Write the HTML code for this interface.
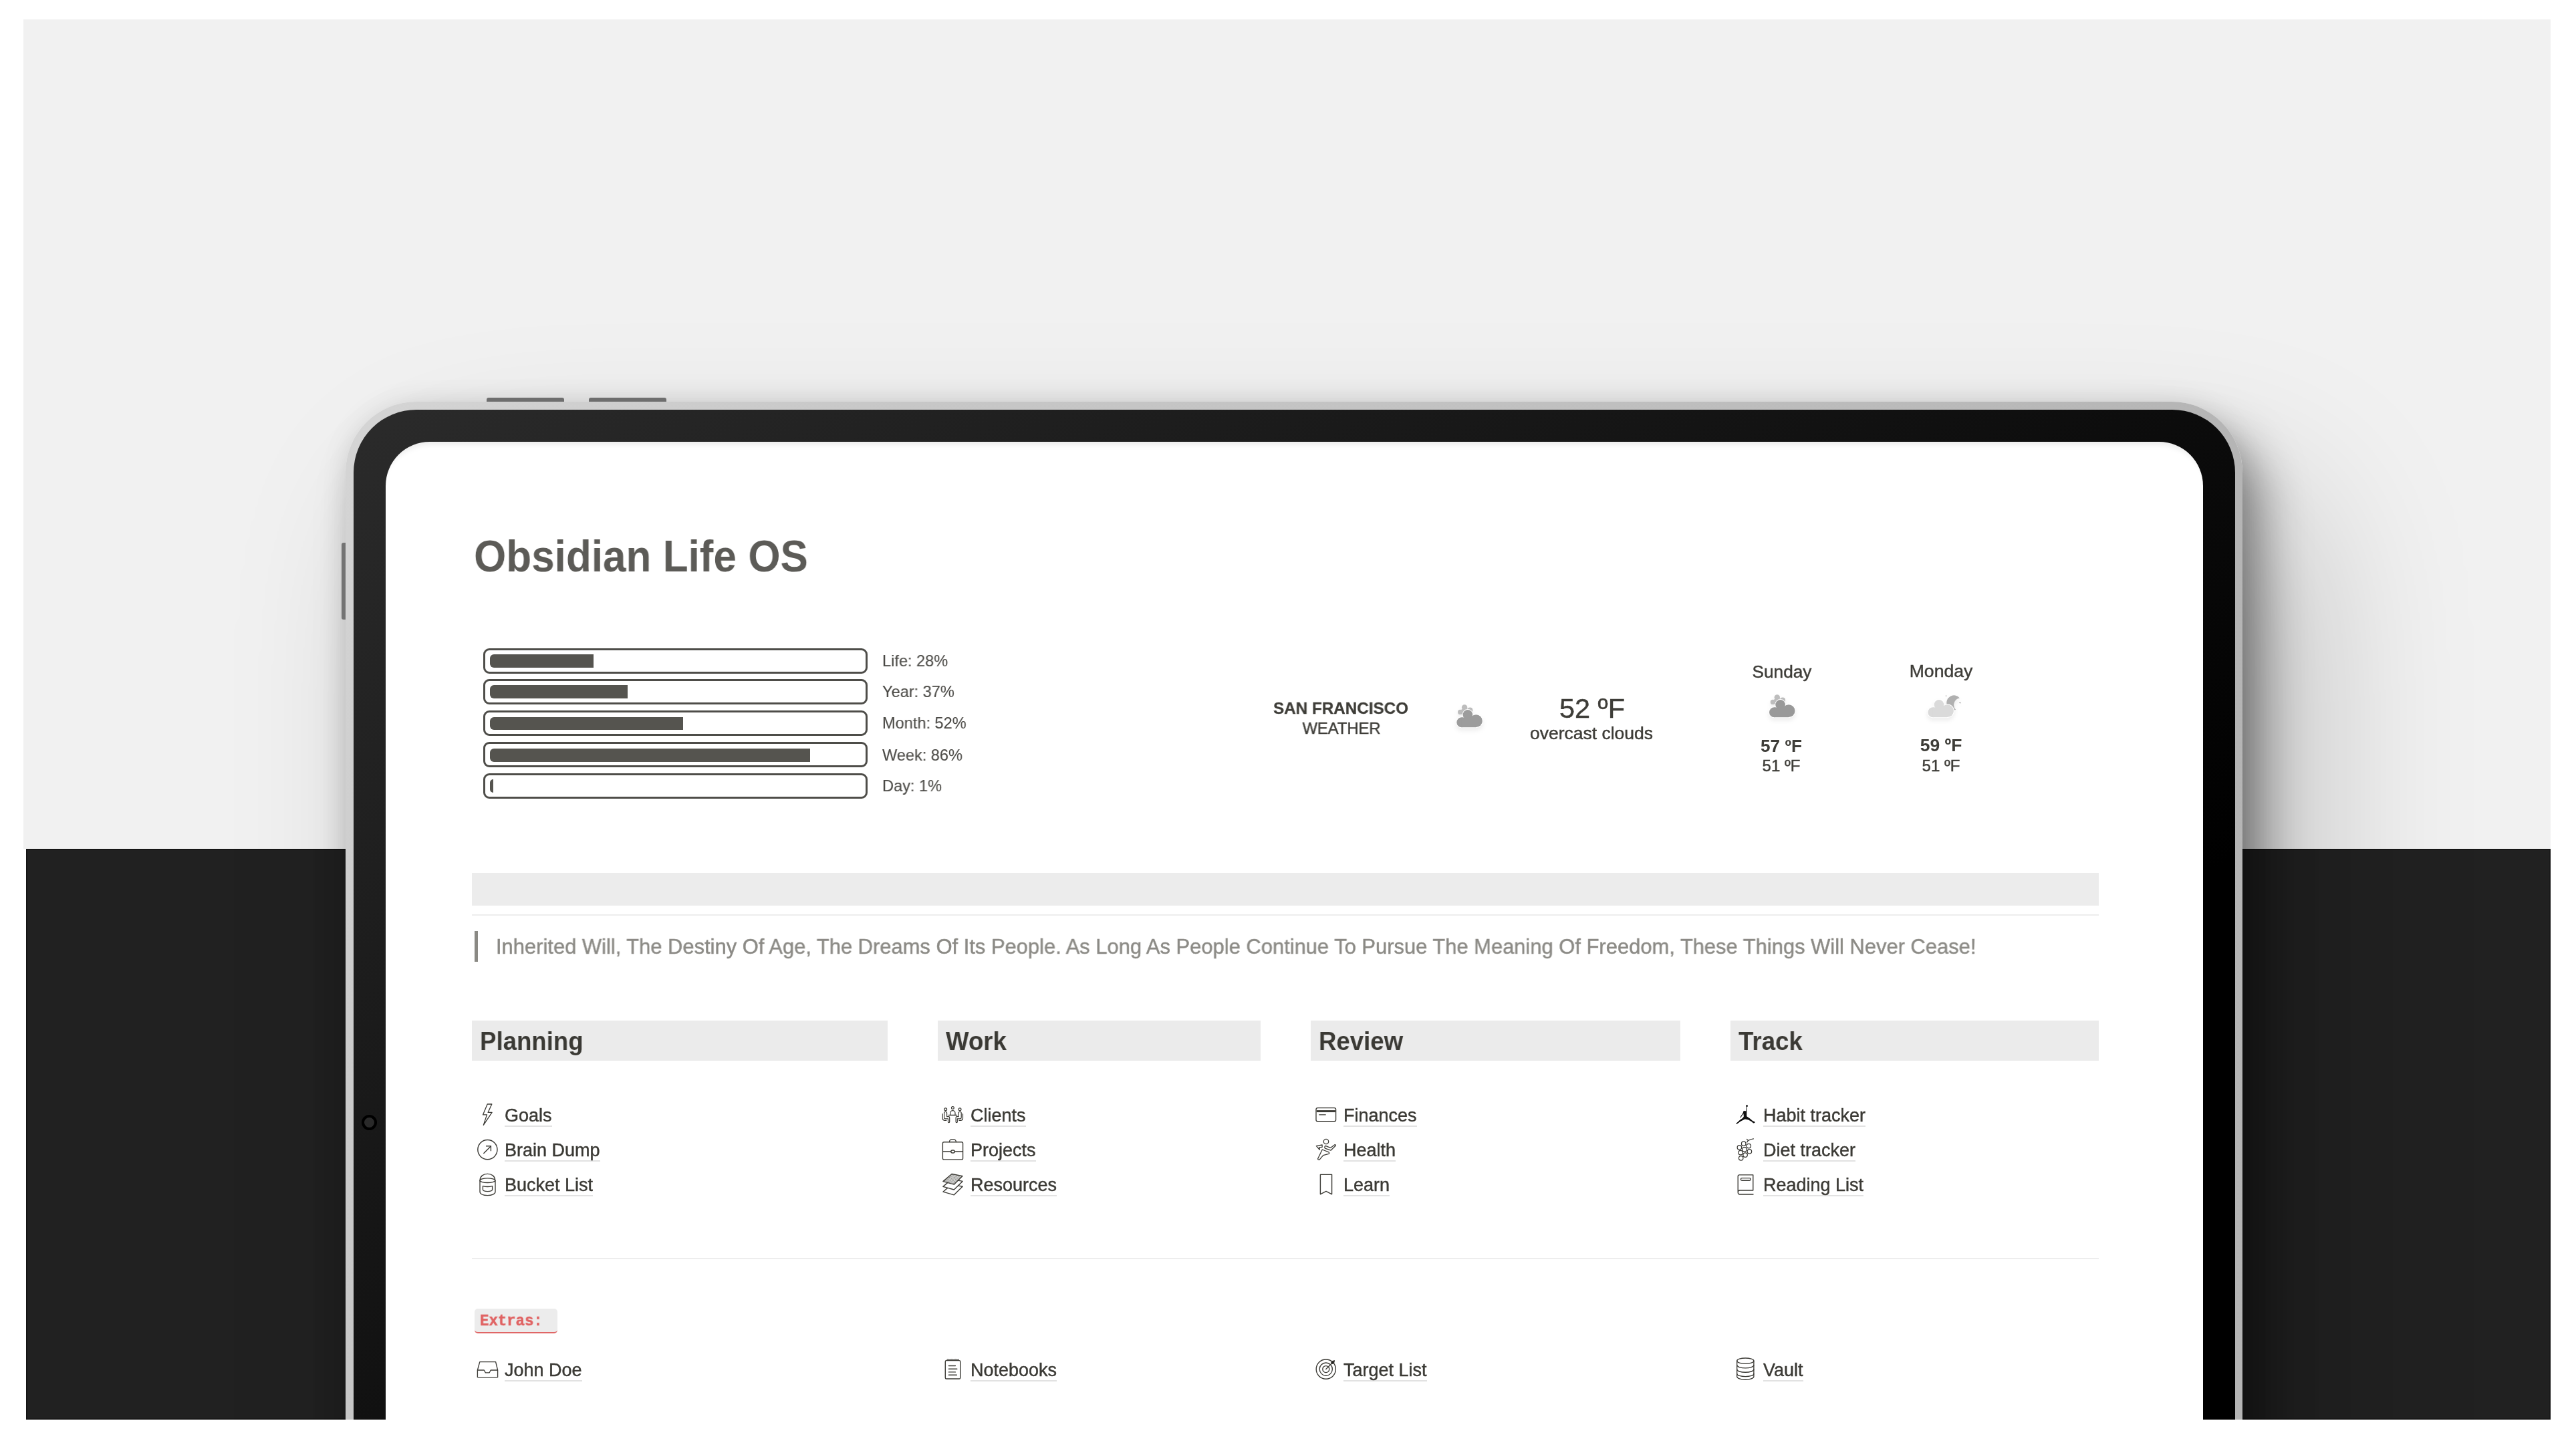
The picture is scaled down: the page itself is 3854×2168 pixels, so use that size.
<!DOCTYPE html><html><head><meta charset="utf-8"><title>Obsidian Life OS</title><style>
html,body{margin:0;padding:0;background:#fff;width:3854px;height:2168px;overflow:hidden;}
body{position:relative;font-family:"Liberation Sans", sans-serif;}
.t{position:absolute;white-space:pre;will-change:transform;}
.w4{-webkit-text-stroke:0.45px currentColor;}
.r{position:absolute;}
</style></head><body>
<div class="r" style="left:35px;top:29px;width:3781px;height:1241px;background:#f1f1f1;"></div>
<div class="r" style="left:39px;top:1270px;width:3777px;height:854px;background:#212121;box-shadow:inset 0 0 0 1.5px #121212;"></div>
<div class="r" style="left:35px;top:29px;width:3781px;height:2095px;overflow:hidden;">
<div class="r" style="left:482px;top:572px;width:2838px;height:1799px;border-radius:106px;box-shadow:30px 45px 70px rgba(0,0,0,0.40), 90px 140px 260px rgba(0,0,0,0.22), 0 0 40px rgba(0,0,0,0.08);"></div>
</div>
<div class="r" style="left:0;top:0;width:3854px;height:2124px;overflow:hidden;">
<div class="r" style="left:728px;top:595px;width:116px;height:8px;background:#6e6e6e;border-radius:3px 3px 0 0;"></div>
<div class="r" style="left:881px;top:595px;width:116px;height:8px;background:#6e6e6e;border-radius:3px 3px 0 0;"></div>
<div class="r" style="left:511px;top:812px;width:8px;height:115px;background:#737373;border-radius:3px 0 0 3px;"></div>
<div class="r" style="left:517px;top:601px;width:2838px;height:1699px;border-radius:106px;background:linear-gradient(120deg,#d5d5d5 0%,#c7c7c7 22%,#c3c3c3 40%,#b5b5b5 74%,#b4b4b4 100%);"></div>
<div class="r" style="left:529px;top:613px;width:2815px;height:1675px;border-radius:94px;background:linear-gradient(146.6deg,#2b2b2b 0%,#000 71.5%);"></div>
<div class="r" style="left:541px;top:1668px;width:15px;height:15px;border-radius:50%;background:#2a2a2a;border:4.5px solid #000;"></div>
<div class="r" style="left:577px;top:661px;width:2719px;height:1579px;border-radius:66px;background:#fff;box-shadow:inset 0 14px 10px -10px rgba(0,0,0,0.09);"></div>
</div>
<div class="t" style="left:709.00px;top:799.13px;font-size:66px;line-height:66px;font-weight:700;color:#5c5b57;transform:scaleX(0.94);transform-origin:left 50%;font-family:'Liberation Sans', sans-serif;">Obsidian Life OS</div>
<div class="r" style="left:723px;top:969.6px;width:569px;height:32px;border:3px solid #4e4d49;border-radius:9px;"></div>
<div class="r" style="left:733px;top:979.2px;width:155.0px;height:19.5px;background:#55544f;border-radius:6px 0 0 6px;"></div>
<div class="t w4" style="left:1320.00px;top:976.85px;font-size:23.8px;line-height:23.8px;font-weight:400;color:#4a4945;transform:scaleX(0.99);transform-origin:left 50%;font-family:'Liberation Sans', sans-serif;-webkit-text-stroke:0.12px currentColor;">Life: 28%</div>
<div class="r" style="left:723px;top:1015.8px;width:569px;height:32px;border:3px solid #4e4d49;border-radius:9px;"></div>
<div class="r" style="left:733px;top:1025.4px;width:205.5px;height:19.5px;background:#55544f;border-radius:6px 0 0 6px;"></div>
<div class="t w4" style="left:1320.00px;top:1023.05px;font-size:23.8px;line-height:23.8px;font-weight:400;color:#4a4945;transform:scaleX(0.99);transform-origin:left 50%;font-family:'Liberation Sans', sans-serif;-webkit-text-stroke:0.12px currentColor;">Year: 37%</div>
<div class="r" style="left:723px;top:1063.0px;width:569px;height:32px;border:3px solid #4e4d49;border-radius:9px;"></div>
<div class="r" style="left:733px;top:1072.6px;width:289.0px;height:19.5px;background:#55544f;border-radius:6px 0 0 6px;"></div>
<div class="t w4" style="left:1320.00px;top:1070.25px;font-size:23.8px;line-height:23.8px;font-weight:400;color:#4a4945;transform:scaleX(0.99);transform-origin:left 50%;font-family:'Liberation Sans', sans-serif;-webkit-text-stroke:0.12px currentColor;">Month: 52%</div>
<div class="r" style="left:723px;top:1110.4px;width:569px;height:32px;border:3px solid #4e4d49;border-radius:9px;"></div>
<div class="r" style="left:733px;top:1120.0px;width:478.8px;height:19.5px;background:#55544f;border-radius:6px 0 0 6px;"></div>
<div class="t w4" style="left:1320.00px;top:1117.65px;font-size:23.8px;line-height:23.8px;font-weight:400;color:#4a4945;transform:scaleX(0.99);transform-origin:left 50%;font-family:'Liberation Sans', sans-serif;-webkit-text-stroke:0.12px currentColor;">Week: 86%</div>
<div class="r" style="left:723px;top:1156.6px;width:569px;height:32px;border:3px solid #4e4d49;border-radius:9px;"></div>
<div class="r" style="left:733px;top:1166.2px;width:4.6px;height:19.5px;background:#55544f;border-radius:6px 0 0 6px;"></div>
<div class="t w4" style="left:1320.00px;top:1163.85px;font-size:23.8px;line-height:23.8px;font-weight:400;color:#4a4945;transform:scaleX(0.99);transform-origin:left 50%;font-family:'Liberation Sans', sans-serif;-webkit-text-stroke:0.12px currentColor;">Day: 1%</div>
<div class="t" style="left:1006.00px;width:2000px;text-align:center;top:1048.26px;font-size:24.5px;line-height:24.5px;font-weight:700;color:#3e3d38;transform:scaleX(0.99);transform-origin:center 50%;font-family:'Liberation Sans', sans-serif;-webkit-text-stroke:0.3px currentColor;">SAN FRANCISCO</div>
<div class="t w4" style="left:1006.50px;width:2000px;text-align:center;top:1077.68px;font-size:24px;line-height:24px;font-weight:400;color:#3e3d38;transform:scaleX(0.99);transform-origin:center 50%;font-family:'Liberation Sans', sans-serif;">WEATHER</div>
<div class="t w4" style="left:1381.50px;width:2000px;text-align:center;top:1038.87px;font-size:41.5px;line-height:41.5px;font-weight:400;color:#3e3d38;font-family:'Liberation Sans', sans-serif;">52 ºF</div>
<div class="t w4" style="left:1381.00px;width:2000px;text-align:center;top:1083.57px;font-size:26.5px;line-height:26.5px;font-weight:400;color:#3e3d38;font-family:'Liberation Sans', sans-serif;">overcast clouds</div>
<div class="t w4" style="left:1665.50px;width:2000px;text-align:center;top:991.62px;font-size:26.2px;line-height:26.2px;font-weight:400;color:#3e3d38;font-family:'Liberation Sans', sans-serif;">Sunday</div>
<div class="t w4" style="left:1904.00px;width:2000px;text-align:center;top:991.28px;font-size:26.6px;line-height:26.6px;font-weight:400;color:#3e3d38;font-family:'Liberation Sans', sans-serif;">Monday</div>
<div class="t" style="left:1665.40px;width:2000px;text-align:center;top:1102.62px;font-size:26.2px;line-height:26.2px;font-weight:700;color:#3e3d38;font-family:'Liberation Sans', sans-serif;">57 ºF</div>
<div class="t" style="left:1904.20px;width:2000px;text-align:center;top:1102.37px;font-size:26.5px;line-height:26.5px;font-weight:700;color:#3e3d38;font-family:'Liberation Sans', sans-serif;">59 ºF</div>
<div class="t w4" style="left:1665.40px;width:2000px;text-align:center;top:1133.68px;font-size:24px;line-height:24px;font-weight:400;color:#3e3d38;font-family:'Liberation Sans', sans-serif;">51 ºF</div>
<div class="t w4" style="left:1903.70px;width:2000px;text-align:center;top:1133.68px;font-size:24px;line-height:24px;font-weight:400;color:#3e3d38;font-family:'Liberation Sans', sans-serif;">51 ºF</div>
<svg class="r" style="left:2170px;top:1045px;filter:drop-shadow(0 4px 3px rgba(0,0,0,0.07));" width="60" height="55" viewBox="2170 1045 60 55" stroke="none"><ellipse cx="2192.3" cy="1064.5" rx="7.5" ry="4.6" fill="#bdbdbd"/><circle cx="2191.1" cy="1058.4" r="4.2" fill="#bdbdbd"/><circle cx="2184.6" cy="1065.4" r="3.6" fill="#bdbdbd"/><circle cx="2199.4" cy="1062.6" r="4.0" fill="#bdbdbd"/><circle cx="2190.5" cy="1065.2" r="4.4" fill="#bdbdbd"/><circle cx="2195.9" cy="1069.4" r="7.3" fill="#fff" stroke="#fff" stroke-width="2.0"/><circle cx="2208.4" cy="1078.7" r="9.4" fill="#fff" stroke="#fff" stroke-width="2.0"/><circle cx="2186.8" cy="1080.7" r="7.5" fill="#fff" stroke="#fff" stroke-width="2.0"/><rect x="2186.8" y="1073.5" width="21.6" height="14.7" fill="#fff" stroke="#fff" stroke-width="2.0"/><circle cx="2195.9" cy="1069.4" r="7.3" fill="#9c9c9c"/><circle cx="2208.4" cy="1078.7" r="9.4" fill="#9c9c9c"/><circle cx="2186.8" cy="1080.7" r="7.5" fill="#9c9c9c"/><rect x="2186.8" y="1073.5" width="21.6" height="14.7" fill="#9c9c9c"/></svg>
<svg class="r" style="left:2635px;top:1030px;filter:drop-shadow(0 4px 3px rgba(0,0,0,0.07));" width="60" height="55" viewBox="2635 1030 60 55" stroke="none"><ellipse cx="2660.0" cy="1049.5" rx="7.5" ry="4.6" fill="#bdbdbd"/><circle cx="2658.8" cy="1043.4" r="4.2" fill="#bdbdbd"/><circle cx="2652.3" cy="1050.4" r="3.6" fill="#bdbdbd"/><circle cx="2667.1" cy="1047.6" r="4.0" fill="#bdbdbd"/><circle cx="2658.2" cy="1050.2" r="4.4" fill="#bdbdbd"/><circle cx="2663.6" cy="1054.4" r="7.3" fill="#fff" stroke="#fff" stroke-width="2.0"/><circle cx="2676.1" cy="1063.7" r="9.4" fill="#fff" stroke="#fff" stroke-width="2.0"/><circle cx="2654.5" cy="1065.7" r="7.5" fill="#fff" stroke="#fff" stroke-width="2.0"/><rect x="2654.5" y="1058.5" width="21.6" height="14.7" fill="#fff" stroke="#fff" stroke-width="2.0"/><circle cx="2663.6" cy="1054.4" r="7.3" fill="#999"/><circle cx="2676.1" cy="1063.7" r="9.4" fill="#999"/><circle cx="2654.5" cy="1065.7" r="7.5" fill="#999"/><rect x="2654.5" y="1058.5" width="21.6" height="14.7" fill="#999"/></svg>
<svg class="r" style="left:2875px;top:1030px;filter:drop-shadow(0 4px 3px rgba(0,0,0,0.07));" width="65" height="55" viewBox="2875 1030 65 55" stroke="none"><path d="M2931.9 1044.5 A11 11 0 1 0 2926.2 1062 A10.4 10.4 0 0 1 2931.9 1044.5 Z" fill="#b0b0b0"/><path d="M2932.4 1049.9 L2932.88 1051.02 L2934.0 1051.5 L2932.88 1051.98 L2932.4 1053.1 L2931.92 1051.98 L2930.8 1051.5 L2931.92 1051.02 Z" fill="#9e9e9e"/><path d="M2911.6 1039.8999999999999 L2911.96 1040.74 L2912.7999999999997 1041.1 L2911.96 1041.4599999999998 L2911.6 1042.3 L2911.24 1041.4599999999998 L2910.4 1041.1 L2911.24 1040.74 Z" fill="#9e9e9e"/><circle cx="2901.0" cy="1054.4" r="7.3" fill="#fff" stroke="#fff" stroke-width="2.0"/><circle cx="2913.5" cy="1063.7" r="9.4" fill="#fff" stroke="#fff" stroke-width="2.0"/><circle cx="2891.9" cy="1065.7" r="7.5" fill="#fff" stroke="#fff" stroke-width="2.0"/><rect x="2891.9" y="1058.5" width="21.6" height="14.7" fill="#fff" stroke="#fff" stroke-width="2.0"/><circle cx="2901.0" cy="1054.4" r="7.3" fill="#dadada"/><circle cx="2913.5" cy="1063.7" r="9.4" fill="#dadada"/><circle cx="2891.9" cy="1065.7" r="7.5" fill="#dadada"/><rect x="2891.9" y="1058.5" width="21.6" height="14.7" fill="#dadada"/></svg>
<div class="r" style="left:706px;top:1306px;width:2434px;height:49px;background:#ececec;"></div>
<div class="r" style="left:706px;top:1368px;width:2434px;height:2px;background:#ededed;"></div>
<div class="r" style="left:710px;top:1393px;width:5px;height:46px;background:#8a8984;"></div>
<div class="t w4" style="left:742.00px;top:1401.16px;font-size:31px;line-height:31px;font-weight:400;color:#8b8a85;transform:scaleX(0.997);transform-origin:left 50%;font-family:'Liberation Sans', sans-serif;">Inherited Will, The Destiny Of Age, The Dreams Of Its People. As Long As People Continue To Pursue The Meaning Of Freedom, These Things Will Never Cease!</div>
<div class="r" style="left:706px;top:1527px;width:622px;height:60px;background:#ebebeb;"></div>
<div class="t" style="left:717.50px;top:1537.68px;font-size:39.6px;line-height:39.6px;font-weight:700;color:#3a3934;transform:scaleX(0.925);transform-origin:left 50%;font-family:'Liberation Sans', sans-serif;">Planning</div>
<div class="r" style="left:1403px;top:1527px;width:483px;height:60px;background:#ebebeb;"></div>
<div class="t" style="left:1414.50px;top:1537.68px;font-size:39.6px;line-height:39.6px;font-weight:700;color:#3a3934;transform:scaleX(0.925);transform-origin:left 50%;font-family:'Liberation Sans', sans-serif;">Work</div>
<div class="r" style="left:1961px;top:1527px;width:553px;height:60px;background:#ebebeb;"></div>
<div class="t" style="left:1972.50px;top:1537.68px;font-size:39.6px;line-height:39.6px;font-weight:700;color:#3a3934;transform:scaleX(0.925);transform-origin:left 50%;font-family:'Liberation Sans', sans-serif;">Review</div>
<div class="r" style="left:2589px;top:1527px;width:551px;height:60px;background:#ebebeb;"></div>
<div class="t" style="left:2600.50px;top:1537.68px;font-size:39.6px;line-height:39.6px;font-weight:700;color:#3a3934;transform:scaleX(0.925);transform-origin:left 50%;font-family:'Liberation Sans', sans-serif;">Track</div>
<div class="t w4" style="left:754.50px;top:1655.74px;font-size:27px;line-height:27px;font-weight:400;color:#3b3a35;font-family:'Liberation Sans', sans-serif;"><span style="border-bottom:2px solid #e2e2e2;padding-bottom:0.2px;">Goals</span></div>
<div class="t w4" style="left:754.50px;top:1708.24px;font-size:27px;line-height:27px;font-weight:400;color:#3b3a35;font-family:'Liberation Sans', sans-serif;"><span style="border-bottom:2px solid #e2e2e2;padding-bottom:0.2px;">Brain Dump</span></div>
<div class="t w4" style="left:754.50px;top:1760.44px;font-size:27px;line-height:27px;font-weight:400;color:#3b3a35;font-family:'Liberation Sans', sans-serif;"><span style="border-bottom:2px solid #e2e2e2;padding-bottom:0.2px;">Bucket List</span></div>
<div class="t w4" style="left:1451.50px;top:1655.74px;font-size:27px;line-height:27px;font-weight:400;color:#3b3a35;font-family:'Liberation Sans', sans-serif;"><span style="border-bottom:2px solid #e2e2e2;padding-bottom:0.2px;">Clients</span></div>
<div class="t w4" style="left:1451.50px;top:1708.24px;font-size:27px;line-height:27px;font-weight:400;color:#3b3a35;font-family:'Liberation Sans', sans-serif;"><span style="border-bottom:2px solid #e2e2e2;padding-bottom:0.2px;">Projects</span></div>
<div class="t w4" style="left:1451.50px;top:1760.44px;font-size:27px;line-height:27px;font-weight:400;color:#3b3a35;font-family:'Liberation Sans', sans-serif;"><span style="border-bottom:2px solid #e2e2e2;padding-bottom:0.2px;">Resources</span></div>
<div class="t w4" style="left:2009.50px;top:1655.74px;font-size:27px;line-height:27px;font-weight:400;color:#3b3a35;font-family:'Liberation Sans', sans-serif;"><span style="border-bottom:2px solid #e2e2e2;padding-bottom:0.2px;">Finances</span></div>
<div class="t w4" style="left:2009.50px;top:1708.24px;font-size:27px;line-height:27px;font-weight:400;color:#3b3a35;font-family:'Liberation Sans', sans-serif;"><span style="border-bottom:2px solid #e2e2e2;padding-bottom:0.2px;">Health</span></div>
<div class="t w4" style="left:2009.50px;top:1760.44px;font-size:27px;line-height:27px;font-weight:400;color:#3b3a35;font-family:'Liberation Sans', sans-serif;"><span style="border-bottom:2px solid #e2e2e2;padding-bottom:0.2px;">Learn</span></div>
<div class="t w4" style="left:2637.50px;top:1655.74px;font-size:27px;line-height:27px;font-weight:400;color:#3b3a35;font-family:'Liberation Sans', sans-serif;"><span style="border-bottom:2px solid #e2e2e2;padding-bottom:0.2px;">Habit tracker</span></div>
<div class="t w4" style="left:2637.50px;top:1708.24px;font-size:27px;line-height:27px;font-weight:400;color:#3b3a35;font-family:'Liberation Sans', sans-serif;"><span style="border-bottom:2px solid #e2e2e2;padding-bottom:0.2px;">Diet tracker</span></div>
<div class="t w4" style="left:2637.50px;top:1760.44px;font-size:27px;line-height:27px;font-weight:400;color:#3b3a35;font-family:'Liberation Sans', sans-serif;"><span style="border-bottom:2px solid #e2e2e2;padding-bottom:0.2px;">Reading List</span></div>
<div class="r" style="left:706px;top:1882px;width:2434px;height:2px;background:#ededed;"></div>
<div class="r" style="left:710px;top:1957.5px;width:124px;height:35px;background:#ececec;border-radius:5px;border-bottom:2px solid #e06666;"></div>
<div class="t" style="left:718.00px;top:1965.05px;font-size:24.4px;line-height:24.4px;font-weight:700;color:#e06363;transform:scaleX(0.915);transform-origin:left 50%;font-family:'Liberation Mono', monospace;-webkit-text-stroke:0.5px currentColor;">Extras:</div>
<div class="t w4" style="left:754.50px;top:2036.94px;font-size:27px;line-height:27px;font-weight:400;color:#3b3a35;font-family:'Liberation Sans', sans-serif;"><span style="border-bottom:2px solid #e2e2e2;padding-bottom:0.2px;">John Doe</span></div>
<div class="t w4" style="left:1451.50px;top:2036.94px;font-size:27px;line-height:27px;font-weight:400;color:#3b3a35;font-family:'Liberation Sans', sans-serif;"><span style="border-bottom:2px solid #e2e2e2;padding-bottom:0.2px;">Notebooks</span></div>
<div class="t w4" style="left:2009.50px;top:2036.94px;font-size:27px;line-height:27px;font-weight:400;color:#3b3a35;font-family:'Liberation Sans', sans-serif;"><span style="border-bottom:2px solid #e2e2e2;padding-bottom:0.2px;">Target List</span></div>
<div class="t w4" style="left:2637.50px;top:2036.94px;font-size:27px;line-height:27px;font-weight:400;color:#3b3a35;font-family:'Liberation Sans', sans-serif;"><span style="border-bottom:2px solid #e2e2e2;padding-bottom:0.2px;">Vault</span></div>
<svg class="r" style="left:718px;top:1648px;overflow:visible;" width="24" height="40" viewBox="718 1648 24 40" fill="none" stroke="#3b3a35" stroke-width="1.3" stroke-linecap="round" stroke-linejoin="round"><path d="M729.2 1652 H735.8 L730.1 1664.4 H736.1 L723.3 1683.4 L728.5 1667.9 H722.5 Z"/></svg>
<svg class="r" style="left:712px;top:1703px;overflow:visible;" width="35" height="35" viewBox="712 1703 35 35" fill="none" stroke="#3b3a35" stroke-width="1.4" stroke-linecap="round" stroke-linejoin="round"><circle cx="729.4" cy="1720.1" r="14.6"/><path d="M723.8 1725.5 L734.3 1714.9"/><path d="M727.0 1714.8 H734.4 V1722.3" stroke-linecap="butt" stroke-linejoin="miter"/></svg>
<svg class="r" style="left:714px;top:1753px;overflow:visible;" width="31" height="39" viewBox="714 1753 31 39" fill="none" stroke="#3b3a35" stroke-width="1.35" stroke-linecap="round" stroke-linejoin="round"><path d="M718.2 1765.4 C718.2 1760 723 1756.4 729.4 1756.4 C735.8 1756.4 740.6 1760 740.6 1765.4"/><ellipse cx="729.4" cy="1766.2" rx="11.4" ry="3.3"/><path d="M718 1766.2 V1783 C718 1786.6 723 1788.6 729.4 1788.6 C735.8 1788.6 741 1786.6 741 1783 V1766.2"/><path d="M722.4 1774.6 C726.9 1775.8 731.9 1775.8 736.6 1774.6 V1779.8 C736.6 1782 733.8 1782.6 729.5 1782.6 C725.2 1782.6 722.4 1782 722.4 1779.8 Z"/></svg>
<svg class="r" style="left:1406px;top:1652px;overflow:visible;" width="39" height="32" viewBox="1406 1652 39 32" fill="none" stroke="#3b3a35" stroke-width="1.2" stroke-linecap="round" stroke-linejoin="round"><circle cx="1414.7" cy="1659.7" r="1.9"/><circle cx="1425.4" cy="1657.5" r="1.9"/><circle cx="1436.1" cy="1659.7" r="1.9"/><path d="M1419.4 1668.4 H1431.6" stroke-width="1.5"/><path d="M1421.8 1668 V1665.2 A3.6 3.6 0 0 1 1429.0 1665.2 V1668"/><path d="M1412.6 1665.4 A2.0 2.0 0 0 1 1416.6 1665.4 V1670.6 H1419.2 Q1420.7 1670.6 1420.7 1672.2 V1678.6 A1.1 1.1 0 0 1 1418.5 1678.6 V1673.9 H1414.4 Q1412.6 1673.9 1412.6 1672 Z"/><path d="M1410.3 1666.6 V1673.6 Q1410.3 1676.3 1413 1676.3 H1415.9"/><path d="M1438.2 1665.4 A2.0 2.0 0 0 0 1434.2 1665.4 V1670.6 H1431.6 Q1430.1 1670.6 1430.1 1672.2 V1678.6 A1.1 1.1 0 0 0 1432.3 1678.6 V1673.9 H1436.4 Q1438.2 1673.9 1438.2 1672 Z"/><path d="M1440.5 1666.6 V1673.6 Q1440.5 1676.3 1437.8 1676.3 H1434.9"/></svg>
<svg class="r" style="left:1406px;top:1700px;overflow:visible;" width="39" height="39" viewBox="1406 1700 39 39" fill="none" stroke="#3b3a35" stroke-width="1.35" stroke-linecap="round" stroke-linejoin="round"><rect x="1410.4" y="1708.7" width="30.2" height="26.2" rx="2"/><path d="M1420.4 1708.6 C1420.4 1706 1422.6 1704.6 1425.4 1704.6 C1428.2 1704.6 1430.4 1706 1430.4 1708.6"/><path d="M1410.6 1723 H1422.6 M1428.2 1723 H1440.4"/><rect x="1422.8" y="1721" width="5.4" height="4" rx="2"/></svg>
<svg class="r" style="left:1406px;top:1752px;overflow:visible;" width="39" height="40" viewBox="1406 1752 39 40" fill="none" stroke="#3b3a35" stroke-width="1.4" stroke-linecap="round" stroke-linejoin="round"><defs><pattern id="hatch" width="2.6" height="2.6" patternUnits="userSpaceOnUse" patternTransform="rotate(-18)"><rect width="2.6" height="2.6" fill="#fff" stroke="none"/><rect width="1.3" height="1.3" fill="#6a6a66" stroke="none"/><rect x="1.3" y="1.3" width="1.3" height="1.3" fill="#8a8a86" stroke="none"/></pattern></defs><path d="M1410.9 1783.2 L1424 1772.1000000000001 L1440.1 1775.2 L1427.3 1787.8 Z" fill="#fff"/><path d="M1410.9 1775.4 L1424 1764.3000000000002 L1440.1 1767.4 L1427.3 1780.0 Z" fill="#fff"/><path d="M1410.9 1767.6 L1424 1756.5 L1440.1 1759.6 L1427.3 1772.1999999999998 Z" fill="url(#hatch)"/></svg>
<svg class="r" style="left:1965px;top:1654px;overflow:visible;" width="37" height="27" viewBox="1965 1654 37 27" fill="none" stroke="#3b3a35" stroke-width="1.35" stroke-linecap="round" stroke-linejoin="round"><rect x="1969" y="1657.6" width="29.6" height="20.2" rx="2.4"/><path d="M1969.8 1662.6 H1997.8" stroke-width="3.0" stroke-linecap="butt"/><path d="M1973.8 1667.8 H1983.2"/></svg>
<svg class="r" style="left:1965px;top:1701px;overflow:visible;" width="37" height="39" viewBox="1965 1701 37 39" fill="none" stroke="#3b3a35" stroke-width="1.3" stroke-linecap="round" stroke-linejoin="round"><circle cx="1984" cy="1708" r="3.7"/><path d="M1969.4 1714.6 L1978.1 1713 L1978.1 1716.3 L1974 1716.7 L1974.3 1720.2 Z"/><path d="M1983.2 1714.4 L1990.5 1717.4 L1996.9 1712.7 Q1998.6 1712.4 1998.4 1714 L1991 1721.2 L1982.4 1718.1 Q1980.9 1716 1983.2 1714.4 Z"/><path d="M1978.3 1720 L1988 1723.9 Q1989.4 1725.6 1987.9 1726.3 L1979.6 1728.6 L1973.9 1735.3 Q1971.7 1735.6 1971.6 1733.8 Z"/></svg>
<svg class="r" style="left:1972px;top:1754px;overflow:visible;" width="24" height="36" viewBox="1972 1754 24 36" fill="none" stroke="#3b3a35" stroke-width="1.4" stroke-linecap="round" stroke-linejoin="round"><path d="M1975.4 1757.4 H1992.6 V1786.8 L1984 1782.4 L1975.4 1786.8 Z"/></svg>
<svg class="r" style="left:2594px;top:1651px;overflow:visible;" width="35" height="34" viewBox="2594 1651 35 34" fill="none" stroke="#3b3a35" stroke-width="1" stroke-linecap="round" stroke-linejoin="round"><circle cx="2613.5" cy="1654.8" r="1.45" fill="#111" stroke="none"/><path d="M2608.2 1662.8 L2609.6 1662.0 L2611.6 1662.3 L2612.3 1662.5 L2613.0 1656 L2613.9 1656.1 L2613.4 1662.8 L2613.3 1665.2 L2613.3 1670.3 L2618.4 1673.7 L2622.4 1677.2 L2624.6 1678.0 L2625.7 1678.9 L2625.2 1680.0 L2623.6 1680.6 L2622.6 1679.9 L2620.3 1678.0 L2615.8 1675.6 L2610.6 1674.6 L2604.6 1677.6 L2598.6 1681.8 L2597.3 1681.6 L2597.3 1680.9 L2603.4 1675.6 L2607.4 1672.8 L2608.8 1670.8 L2608.7 1668.2 L2608.3 1666.6 L2607.8 1664.8 Z" fill="#111" stroke="none"/><path d="M2608.2 1665.4 L2604.0 1671.8" stroke="#111" stroke-width="1.1"/></svg>
<svg class="r" style="left:2596px;top:1700px;overflow:visible;" width="32" height="39" viewBox="2596 1700 32 39" fill="none" stroke="#3b3a35" stroke-width="1.25" stroke-linecap="round" stroke-linejoin="round"><circle cx="2608.7" cy="1711.2" r="3.25"/><circle cx="2602.4" cy="1716.8" r="3.25"/><circle cx="2616.3" cy="1714.6" r="3.25"/><circle cx="2609.9" cy="1719.8" r="3.25"/><circle cx="2604.1" cy="1724.6" r="3.25"/><circle cx="2617.4" cy="1722.8" r="3.25"/><circle cx="2611.1" cy="1728" r="3.25"/><circle cx="2604.7" cy="1732.8" r="3.25"/><path d="M2613.8 1709 C2614.2 1706.6 2616.4 1705 2623.4 1703.8"/><path d="M2615 1706 L2613.4 1704.4"/></svg>
<svg class="r" style="left:2596px;top:1754px;overflow:visible;" width="31" height="37" viewBox="2596 1754 31 37" fill="none" stroke="#3b3a35" stroke-width="1.35" stroke-linecap="round" stroke-linejoin="round"><path d="M2600.2 1784 V1760 C2600.2 1758.6 2601 1757.8 2602.4 1757.8 H2622.8 V1781 H2603 C2601.2 1781 2600.2 1782.2 2600.2 1784 C2600.2 1785.8 2601.2 1787 2603 1787 H2623"/><rect x="2604.4" y="1762.6" width="14.8" height="3.6" rx="1.8"/></svg>
<svg class="r" style="left:711px;top:2034px;overflow:visible;" width="37" height="30" viewBox="711 2034 37 30" fill="none" stroke="#3b3a35" stroke-width="1.35" stroke-linecap="round" stroke-linejoin="round"><path d="M717.8 2037.6 H741.6 L744.6 2050 V2060.6 H714.4 V2050 Z"/><path d="M714.6 2050 H724.2 L726.4 2053.8 H732.2 L734.2 2050 H744.4"/></svg>
<svg class="r" style="left:1410px;top:2031px;overflow:visible;" width="31" height="36" viewBox="1410 2031 31 36" fill="none" stroke="#3b3a35" stroke-width="1.4" stroke-linecap="round" stroke-linejoin="round"><rect x="1414.3" y="2035.6" width="22.4" height="27.4" rx="1.6"/><path d="M1416.6 2035 L1417.6 2033.6 L1418.6 2035 L1419.6 2033.6 L1420.6 2035 L1421.6 2033.6 L1422.6 2035 L1423.6 2033.6 L1424.6 2035 L1425.6 2033.6 L1426.6 2035 L1427.6 2033.6 L1428.6 2035 L1429.6 2033.6 L1430.6 2035 L1431.6 2033.6 L1432.6 2035 L1433.6 2033.6 L1434.6 2035" stroke-width="1"/><path d="M1419.4 2043.5 H1429.4 M1419.4 2048.2 H1431.8 M1419.4 2052.9 H1429.4 M1419.4 2057.3 H1431.4"/></svg>
<svg class="r" style="left:1965px;top:2030px;overflow:visible;" width="37" height="37" viewBox="1965 2030 37 37" fill="none" stroke="#3b3a35" stroke-width="1.35" stroke-linecap="round" stroke-linejoin="round"><circle cx="1983.8" cy="2048.6" r="14.6"/><circle cx="1983.8" cy="2048.6" r="9.6"/><circle cx="1983.8" cy="2048.6" r="5"/><path d="M1983.8 2048.6 L1994.4 2038"/><path d="M1992.6 2036.8 L1996.4 2035.8 L1995.4 2039.6 L1993.2 2040.4 L1991.8 2039 Z" fill="#1e1e1c"/></svg>
<svg class="r" style="left:2595px;top:2029px;overflow:visible;" width="33" height="39" viewBox="2595 2029 33 39" fill="none" stroke="#3b3a35" stroke-width="1.35" stroke-linecap="round" stroke-linejoin="round"><ellipse cx="2611.3" cy="2036.2" rx="12.6" ry="4.2"/><path d="M2598.7 2036.2 V2059.8 C2598.7 2062.2 2604.4 2064.2 2611.3 2064.2 C2618.2 2064.2 2623.9 2062.2 2623.9 2059.8 V2036.2"/><path d="M2598.7 2042.6 C2598.7 2045 2604.4 2046.8 2611.3 2046.8 C2618.2 2046.8 2623.9 2045 2623.9 2042.6"/><path d="M2598.7 2049 C2598.7 2051.4 2604.4 2053.2 2611.3 2053.2 C2618.2 2053.2 2623.9 2051.4 2623.9 2049"/><path d="M2598.7 2055.4 C2598.7 2057.8 2604.4 2059.6 2611.3 2059.6 C2618.2 2059.6 2623.9 2057.8 2623.9 2055.4"/></svg>
</body></html>
